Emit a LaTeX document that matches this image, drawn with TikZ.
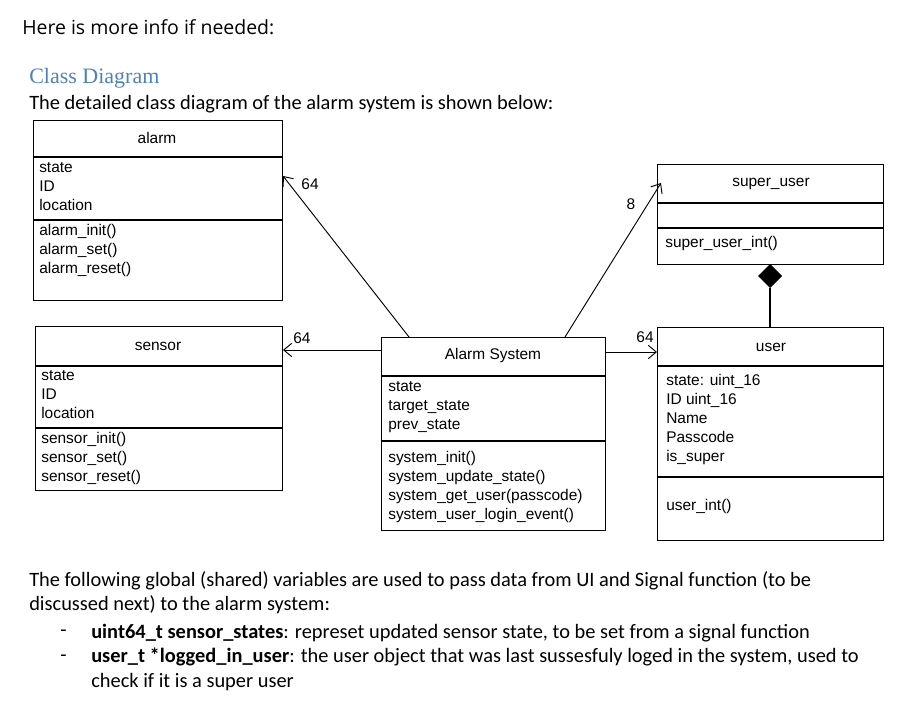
\documentclass[tikz,border=0pt]{standalone}
\usepackage{fontspec}
\setmainfont{Carlito}
\newfontfamily\arial{Liberation Sans}
\newfontfamily\titlef{Liberation Serif}
\newfontfamily\topf{Open Sans}
\usetikzlibrary{arrows.meta}
\definecolor{hblue}{RGB}{79,129,189}
\begin{document}
\begin{tikzpicture}[x=0.75pt,y=-0.75pt,
  cls/.style={draw,line width=0.8pt,anchor=north west,inner sep=0pt},
  txt/.style={anchor=north west,align=left,font=\arial\fontsize{11.6}{14.2}\selectfont,inner sep=0pt},
  ttl/.style={font=\arial\fontsize{11.6}{13}\selectfont,inner sep=0pt},
  conn/.style={line width=0.7pt,-{Straight Barb[length=6pt,width=10pt]}},
  lbl/.style={font=\arial\fontsize{11.6}{13}\selectfont,inner sep=0pt},
  body/.style={font=\fontsize{15.3}{18.5}\selectfont,inner sep=0pt}]
\useasboundingbox (0,0) rectangle (911,716);
\node[anchor=west,font=\topf\fontsize{14.6}{16}\selectfont,inner sep=0pt] (h) at (22,27) {Here is more info if needed:};
\node[anchor=west,font=\titlef\fontsize{16.5}{17}\selectfont,text=hblue,inner sep=0pt] (cd) at (29,78) {Class Diagram};
\node[anchor=west,body] (intro) at (29,104) {The detailed class diagram of the alarm system is shown below:};
% alarm
\node[cls,minimum width=249*0.75pt,minimum height=180*0.75pt] (alarm) at (33,120) {};
\draw[line width=0.8pt] (33,157) -- (282,157) (33,220) -- (282,220);
\node[ttl] at (157,138) {alarm};
\node[txt] at (39,162) {state\\ID\\location};
\node[txt] at (39,224) {alarm\_init()\\alarm\_set()\\alarm\_reset()};
% sensor
\node[cls,minimum width=247*0.75pt,minimum height=164*0.75pt] (sensor) at (35,326) {};
\draw[line width=0.8pt] (35,366) -- (282,366) (35,428) -- (282,428);
\node[ttl] at (158,346) {sensor};
\node[txt] at (41,370) {state\\ID\\location};
\node[txt] at (41,432) {sensor\_init()\\sensor\_set()\\sensor\_reset()};
% alarm system
\node[cls,minimum width=224*0.75pt,minimum height=193*0.75pt] (sys) at (381,337) {};
\draw[line width=0.8pt] (381,376) -- (605,376) (381,441) -- (605,441);
\node[ttl] at (493,356) {Alarm System};
\node[txt] at (388,381) {state\\target\_state\\prev\_state};
\node[txt] at (388,451) {system\_init()\\system\_update\_state()\\system\_get\_user(passcode)\\system\_user\_login\_event()};
% super user
\node[cls,minimum width=226*0.75pt,minimum height=100*0.75pt] (su) at (657,164) {};
\draw[line width=0.8pt] (657,203) -- (883,203) (657,228) -- (883,228);
\node[ttl] at (771,184) {super\_user};
\node[txt] at (665,236) {super\_user\_int()};
% user
\node[cls,minimum width=226*0.75pt,minimum height=213*0.75pt] (user) at (657,327) {};
\draw[line width=0.8pt] (657,366) -- (883,366) (657,477) -- (883,477);
\node[ttl] at (771,347) {user};
\node[txt] at (666,374) {state: uint\_16\\ID uint\_16\\Name\\Passcode\\is\_super};
\node[txt] at (666,499) {user\_int()};
% composition
\coordinate (dt) at (770,264);
\fill (dt) -- (782,276) -- (770,288) -- (758,276) -- cycle;
\coordinate (db) at (770,288);
\draw[line width=0.8pt] (db) -- (770,327);
% connectors
\coordinate (s1) at (409,337); \coordinate (e1) at (283,176);
\coordinate (s2) at (565,337); \coordinate (e2) at (661,183);
\coordinate (s3) at (381,350); \coordinate (e3) at (283,350);
\coordinate (s4) at (605,352); \coordinate (e4) at (657,352);
\draw[conn] (s1) -- (e1);
\draw[conn] (s2) -- (e2);
\draw[conn] (s3) -- (e3);
\draw[conn] (s4) -- (e4);
\node[lbl] at (310,184) {64};
\node[lbl] at (631,204) {8};
\node[lbl] at (302,338) {64};
\node[lbl] at (645,337) {64};
% bottom text
\node[anchor=north west,align=left,body] (p) at (29,571) {The following global (shared) variables are used to pass data from UI and Signal function (to be\\discussed next) to the alarm system:};
\node[anchor=west,body] (b1) at (60,633) {-};
\node[anchor=west,body] (i1) at (91,633) {\textbf{uint64\_t sensor\_states}: represet updated sensor state, to be set from a signal function};
\node[anchor=west,body] (b2) at (60,658) {-};
\node[anchor=north west,align=left,body] (i2) at (91,648) {\textbf{user\_t *logged\_in\_user}: the user object that was last sussesfuly loged in the system, used to\\check if it is a super user};
\end{tikzpicture}
\end{document}
